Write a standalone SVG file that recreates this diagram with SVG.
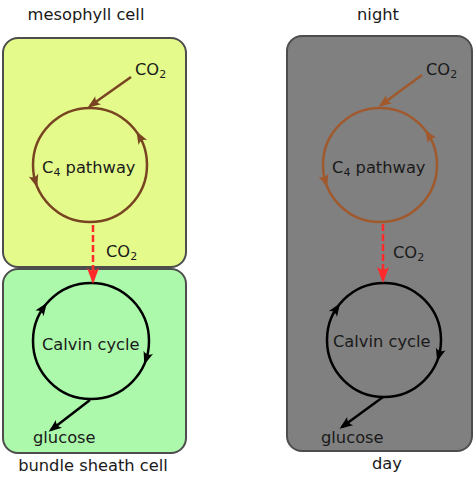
<svg xmlns="http://www.w3.org/2000/svg" xmlns:xlink="http://www.w3.org/1999/xlink" width="474" height="477" viewBox="0 0 474 477">
<style>
text{font-family:"DejaVu Sans","Liberation Sans",sans-serif;font-size:16.3px;fill:#1a1a1a}
.sub{font-size:11px}
.box{stroke:#4d4d4d;stroke-width:2}
.cyc{fill:none;stroke-width:2.5}
.ln{fill:none;stroke-width:2.5}
</style>
<defs>
<path id="ah" d="M6,0 L-7,-5 Q-2.5,0 -7,5 Z"/>
<marker id="mBrown" viewBox="-14 -7 18 14" markerWidth="18" markerHeight="14" refX="-3" refY="0" orient="auto" markerUnits="userSpaceOnUse"><path d="M0,0 L-13,-5 Q-9,0 -13,5 Z" fill="#784421"/></marker>
<marker id="mSienna" viewBox="-14 -7 18 14" markerWidth="18" markerHeight="14" refX="-3" refY="0" orient="auto" markerUnits="userSpaceOnUse"><path d="M0,0 L-13,-5 Q-9,0 -13,5 Z" fill="#a0592c"/></marker>
<marker id="mBlack" viewBox="-14 -7 18 14" markerWidth="18" markerHeight="14" refX="-3" refY="0" orient="auto" markerUnits="userSpaceOnUse"><path d="M0,0 L-13,-5 Q-9,0 -13,5 Z" fill="#000"/></marker>
<marker id="mRed" viewBox="-17 -8 21 16" markerWidth="21" markerHeight="16" refX="-3" refY="0" orient="auto" markerUnits="userSpaceOnUse"><path d="M0,0 L-16,-6 Q-11,0 -16,6 Z" fill="#ff2a2a"/></marker>
</defs>

<g id="labels">
<text x="86" y="20" text-anchor="middle">mesophyll cell</text>
<text x="93" y="471" text-anchor="middle">bundle sheath cell</text>
<text x="378" y="20" text-anchor="middle">night</text>
<text x="387" y="469" text-anchor="middle">day</text>
</g>

<g id="mesophyll-cell">
<rect class="box" x="3" y="38" width="183" height="229" rx="15" fill="#e4fa8b"/>
</g>
<g id="bundle-sheath-cell">
<rect class="box" x="3" y="269" width="183" height="184" rx="15" fill="#acf9ac"/>
</g>
<g id="night-day-cell">
<rect class="box" x="287" y="36" width="185" height="415" rx="15" fill="#808080"/>
</g>

<g id="c4-left">
<circle class="cyc" cx="90" cy="165" r="57" stroke="#784421"/>
<use xlink:href="#ah" fill="#784421" transform="translate(90,165) rotate(-30) translate(57,0) rotate(-90)"/>
<use xlink:href="#ah" fill="#784421" transform="translate(90,165) rotate(163) translate(57,0) rotate(-90)"/>
<text x="42" y="173">C<tspan class="sub" dy="3">4</tspan><tspan dy="-3"> pathway</tspan></text>
</g>
<g id="calvin-left">
<circle class="cyc" cx="91" cy="341" r="58" stroke="#000"/>
<use xlink:href="#ah" fill="#000" transform="translate(91,341) rotate(-145) translate(58,0) rotate(90)"/>
<use xlink:href="#ah" fill="#000" transform="translate(91,341) rotate(18) translate(58,0) rotate(90)"/>
<text x="42" y="350">Calvin cycle</text>
</g>
<g id="c4-right">
<circle class="cyc" cx="380" cy="165" r="57" stroke="#a0592c"/>
<use xlink:href="#ah" fill="#a0592c" transform="translate(380,165) rotate(-32) translate(57,0) rotate(-90)"/>
<use xlink:href="#ah" fill="#a0592c" transform="translate(380,165) rotate(163) translate(57,0) rotate(-90)"/>
<text x="332" y="173">C<tspan class="sub" dy="3">4</tspan><tspan dy="-3"> pathway</tspan></text>
</g>
<g id="calvin-right">
<circle class="cyc" cx="384" cy="340" r="57" stroke="#000"/>
<use xlink:href="#ah" fill="#000" transform="translate(384,340) rotate(-146) translate(57,0) rotate(90)"/>
<use xlink:href="#ah" fill="#000" transform="translate(384,340) rotate(16) translate(57,0) rotate(90)"/>
<text x="333" y="347">Calvin cycle</text>
</g>

<g id="co2-glucose-labels">
<text x="135" y="75">CO<tspan class="sub" dy="3">2</tspan></text>
<text x="106" y="257">CO<tspan class="sub" dy="3">2</tspan></text>
<text x="33" y="443">glucose</text>
<text x="426" y="75">CO<tspan class="sub" dy="3">2</tspan></text>
<text x="393" y="258">CO<tspan class="sub" dy="3">2</tspan></text>
<text x="321" y="443">glucose</text>
</g>

<g id="connectors">
<line class="ln" x1="131" y1="77" x2="90" y2="106" stroke="#784421" marker-end="url(#mBrown)"/>
<line class="ln" x1="93" y1="225" x2="93" y2="281" stroke="#ff2a2a" stroke-dasharray="7,3" marker-end="url(#mRed)"/>
<line class="ln" x1="90" y1="400" x2="51" y2="430" stroke="#000" marker-end="url(#mBlack)"/>
<line class="ln" x1="422" y1="75" x2="381" y2="105" stroke="#a0592c" marker-end="url(#mSienna)"/>
<line class="ln" x1="383" y1="224" x2="383" y2="280" stroke="#ff2a2a" stroke-dasharray="7,3" marker-end="url(#mRed)"/>
<line class="ln" x1="383" y1="397" x2="342" y2="427" stroke="#000" marker-end="url(#mBlack)"/>
</g>
</svg>
